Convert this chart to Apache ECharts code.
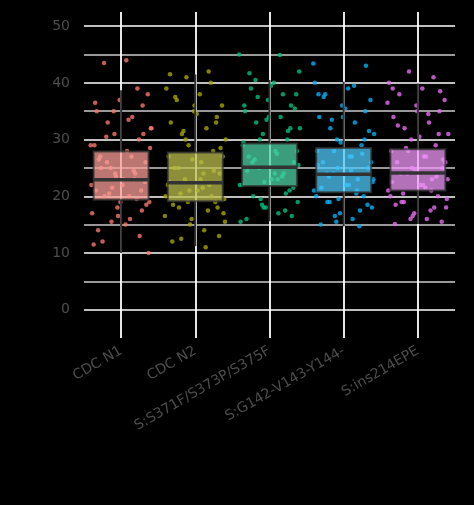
<!DOCTYPE html>
<html><head><meta charset="utf-8">
<script src="https://cdn.jsdelivr.net/npm/echarts@6/dist/echarts.min.js"></script>
<style>html,body{margin:0;background:#000}#c{width:474px;height:505px}</style>
</head><body><div id="c"></div>
<script>
var categories = ['CDC N1', 'CDC N2', 'S:S371F/S373P/S375F', 'S:G142-V143-Y144-', 'S:ins214EPE'];
var colors = ['#F8766D', '#A3A500', '#00BF7D', '#00B0F6', '#E76BF3'];
var boxFill = ['#FA9E98', '#BCBD4D', '#4DD2A4', '#4DC8F9', '#EE97F7'];
// [low whisker, Q1, median, Q3, high whisker]
var boxStats = [
  [10, 19.4, 22.9, 27.9, 38.7],
  [11.2, 19.1, 22.4, 27.7, 41.5],
  [15.6, 21.8, 25.1, 29.3, 40.5],
  [14.7, 20.7, 23.9, 28.5, 40.2],
  [15.1, 21.0, 24.1, 28.3, 39.9]
];
var jitterX = [-0.31,0.12,-0.05,0.38,-0.22,0.27,-0.4,0.03,0.19,-0.14,0.33,-0.28,0.08,-0.36,0.24,-0.09,0.41,-0.18,0.15,-0.33,0.29,-0.02,0.36,-0.25,0.06,-0.39,0.21,-0.12,0.32,-0.07,0.17,-0.3,0.39,-0.2,0.1,-0.35,0.25,-0.04,0.34,-0.16,0.02,-0.27,0.14,-0.41,0.3,-0.1,0.22,-0.37,0.07,-0.23,0.37,-0.13,0.28,-0.01,-0.34,0.18,-0.19,0.4,-0.08,0.11];
var yN1 = [14,16,18,19,20,21,22,23,24,25,26,27,28,29,30,31,32,33,34,35,36,37,38,12,15,17,19.5,21.5,22.5,23.5,24.5,26.5,28.5,30.5,33.5,36.5,13,16.5,18.5,20.5,22,25,27,29,31,35,39,11.5,44,43.5,10,15.5,17.5,19,21,23,26,32,24,20];
var yN2 = [12,14,16,17,18,19,20,21,22,23,24,25,26,27,28,29,30,31,32,33,34,35,36,37,38,39,40,41,13,15,17.5,18.5,19.5,20.5,21.5,22.5,24.5,26.5,28.5,31.5,34.5,37.5,11,16.5,18,19,20,22,23,25,27,30,33,36,41.5,42,12.5,15.5,21,24];
var yS371 = [16,17,18,19,20,21,22,23,24,25,26,27,28,29,30,31,32,33,34,35,36,37,38,39,40,15.5,17.5,19.5,21.5,22.5,23.5,24.5,25.5,26.5,27.5,29.5,31.5,33.5,35.5,37.5,39.5,41.7,44.9,45,16.5,18.5,20.5,22,24,26,28,30,32,34,36,38,40.5,42,18,23];
var yG142 = [15,16,17,18,19,20,21,22,23,24,25,26,27,28,29,30,31,32,33,34,35,36,37,38,39,40,14.7,16.5,18.5,19.5,20.5,21.5,22.5,23.5,24.5,25.5,27.5,29.5,31.5,33.5,35.5,37.5,39.5,43.4,43,15.5,17.5,20,22,24,26,28,30,34,38,21,19,23,25,27];
var yIns = [15.1,16,17,18,19,20,21,22,23,24,25,26,27,28,29,30,31,32,33,34,35,36,37,38,39,40,41,42,15.5,16.5,17.5,18.5,19.5,20.5,21.5,22.5,23.5,24.5,26.5,28.5,30.5,32.5,34.5,36.5,38.5,16,18,20,22,24,26,28,31,35,39,21,19,23,25,27];
var groupsY = [yN1, yN2, yS371, yG142, yIns];

var series = [];
groupsY.forEach(function (ys, i) {
  series.push({
    type: 'scatter', xAxisIndex: 1, symbolSize: 4.5,
    itemStyle: { color: colors[i] },
    data: ys.map(function (y, k) { return [i + jitterX[k % jitterX.length], y]; }),
    z: 2
  });
});
series.push({
  type: 'custom', xAxisIndex: 1, z: 3,
  data: boxStats.map(function (s, i) { return [i].concat(s); }),
  renderItem: function (params, api) {
    var i = api.value(0);
    var half = 0.37;
    var lo = api.coord([i, api.value(1)]), q1 = api.coord([i - half, api.value(2)]);
    var med = api.coord([i - half, api.value(3)]), q3 = api.coord([i + half, api.value(4)]);
    var hi = api.coord([i, api.value(5)]);
    var stroke = { stroke: '#333', lineWidth: 2 };
    return { type: 'group', children: [
      { type: 'line', shape: { x1: lo[0], y1: lo[1], x2: lo[0], y2: q1[1] }, style: stroke },
      { type: 'line', shape: { x1: hi[0], y1: hi[1], x2: hi[0], y2: q3[1] }, style: stroke },
      { type: 'rect', shape: { x: q1[0], y: q3[1], width: q3[0] - q1[0], height: q1[1] - q3[1] },
        style: { fill: boxFill[i], opacity: 0.75, stroke: '#333', lineWidth: 2 } },
      { type: 'line', shape: { x1: q1[0], y1: med[1], x2: q3[0], y2: med[1] }, style: { stroke: '#333', lineWidth: 3.5 } }
    ] };
  }
});

var gridColors = ['transparent'];
for (var t = 0; t <= 50; t += 5) gridColors.push(t % 10 === 0 ? '#ffffff' : '#cccccc');

var chart = echarts.init(document.getElementById('c'));
chart.setOption({
  backgroundColor: '#000',
  animation: false,
  grid: { left: 84, right: 19, top: 12, bottom: 167 },
  xAxis: [{
    type: 'category', data: categories, boundaryGap: true,
    axisLine: { show: false }, axisTick: { show: false },
    splitLine: { show: false },
    axisLabel: { rotate: 30, color: '#4d4d4d', fontSize: 14, fontFamily: 'DejaVu Sans', margin: 12, interval: 0 }
  }, {
    type: 'value', min: -0.5, max: 4.5, interval: 0.5, show: true,
    axisLine: { show: false }, axisTick: { show: false }, axisLabel: { show: false },
    splitLine: { show: true, lineStyle: { color: ['transparent', '#fff'], width: 1.8 } }
  }],
  yAxis: {
    type: 'value', min: -5, max: 52.5, interval: 5,
    axisLine: { show: false }, axisTick: { show: false },
    axisLabel: { color: '#4d4d4d', fontSize: 14, fontFamily: 'DejaVu Sans', margin: 14,
      formatter: function (v) { return v >= 0 && v % 10 === 0 ? String(v) : ''; } },
    splitLine: { lineStyle: { color: gridColors, width: 1.5 } }
  },
  series: series
});
</script></body></html>
